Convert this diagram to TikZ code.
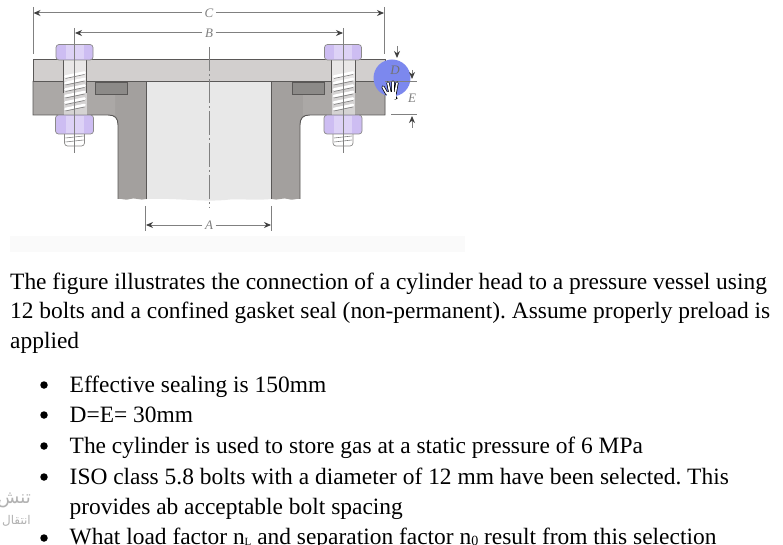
\documentclass[tikz,border=0pt]{standalone}
\usepackage{fontspec}
\setmainfont{Liberation Serif}
\newfontfamily\arabicfont[Script=Arabic]{DejaVu Sans}
\TeXXeTstate=1
\usetikzlibrary{arrows.meta}
\definecolor{flangetop}{HTML}{D2CFCE}
\definecolor{flangelow}{HTML}{ABA8A6}
\definecolor{wallgray}{HTML}{A3A09E}
\definecolor{boregray}{HTML}{E8E8E8}
\definecolor{gasket}{HTML}{8C8A88}
\definecolor{edgegray}{HTML}{5A5857}
\definecolor{boltviolet}{HTML}{CDBDF2}
\definecolor{boltlight}{HTML}{DDD2F6}
\definecolor{dimgray}{HTML}{808080}
\definecolor{hotblue}{HTML}{7C88EE}
\tikzset{
  body/.style={font=\fontsize{23.43}{26}\selectfont, anchor=base west, inner sep=0pt, text=black},
  dot/.style={circle, fill=black, inner sep=0pt, minimum size=7.5pt},
  dimlab/.style={font=\fontsize{13}{14}\selectfont\itshape, text=dimgray, fill=white, inner sep=2.5pt},
  dimline/.style={draw=dimgray, line width=1pt},
  dimarrow/.style={dimline, -{Stealth[length=7pt,width=6pt,color=black!75,fill=black!75]}},
  edge/.style={draw=edgegray, line width=0.9pt},
  violet/.style={fill=boltviolet, draw=edgegray!70, line width=0.7pt},
  sidelab/.style={font=\arabicfont\fontsize{12}{14}\selectfont, text=black!30, anchor=base east, inner sep=0pt}
}
\newcommand{\boltassy}[1]{%
  \begin{scope}[shift={(#1,0)}]
    \fill[flangetop!50!white] (-11,60) rectangle (12,81);
    \fill[flangelow!50!white] (-11,81) rectangle (12,115);
    \draw[edge,line width=0.7pt] (-11.5,60) -- (-11.5,93) (12,60) -- (12,93);
    \foreach \yy in {75,81.5,...,113}{
      \draw[white,line width=2.6pt,line cap=round] (-9,\yy+1.5) -- (10,\yy-2.5);
      \draw[black!55,line width=0.5pt] (-9,\yy+3.5) -- (10,\yy-0.5);
    }
    % bolt end
    \draw[violet,fill=white,rounded corners=3pt] (-10,130) -- (-10,146) -- (10,146) -- (10,130);
    \draw[black!50,line width=0.6pt] (-9,138) -- (9,136) (-9,142) -- (9,140);
    % head
    \draw[violet,rounded corners=3pt] (-18.5,60) -- (-18.5,44.5) -- (18.5,44.5) -- (18.5,60) -- cycle;
    \fill[boltlight] (-9,45.5) rectangle (9,59.5);
    % nut
    \draw[violet,rounded corners=3pt] (-19,115) -- (-19,134) -- (19,134) -- (19,115) -- cycle;
    \fill[boltlight] (-9,116) rectangle (9,133);
    % axis
    \draw[dimline,line width=0.7pt] (0,28) -- (0,153);
  \end{scope}}
\begin{document}
\begin{tikzpicture}[x=1pt,y=-1pt]
\frenchspacing
\useasboundingbox (0,0) rectangle (783,545);
\clip (0,0) rectangle (783,545);
\fill[white] (0,0) rectangle (783,545);
\fill[black!2] (10,236) rectangle (465,252);
% bore
\fill[boregray] (147,81) -- (271,81) -- (271,199)
  .. controls (250,201) and (240,198) .. (225,200)
  .. controls (200,202) and (180,198) .. (147,199) -- cycle;
% bodies
\path[fill=wallgray] (33,81) -- (146.5,81) -- (146.5,199)
  .. controls (140,201) and (135,197) .. (130,199)
  .. controls (125,201) and (122,198) .. (118,199)
  -- (118,125) .. controls (118,118) and (115,115) .. (108,115) -- (33,115) -- cycle;
\path[fill=wallgray] (385,81) -- (271.5,81) -- (271.5,199)
  .. controls (278,201) and (283,197) .. (288,199)
  .. controls (293,201) and (296,198) .. (300,199)
  -- (300,125) .. controls (300,118) and (303,115) .. (310,115) -- (385,115) -- cycle;
\fill[flangelow] (33,81) rectangle (115,115) (303,81) rectangle (385,115);
\draw[edge] (33,81) -- (33,115) -- (108,115) .. controls (115,115) and (118,118) .. (118,125) -- (118,199);
\draw[edge] (385,81) -- (385,115) -- (310,115) .. controls (303,115) and (300,118) .. (300,125) -- (300,199);
\draw[edge] (146.5,81) -- (146.5,199) (271.5,81) -- (271.5,199);
% top flange
\fill[flangetop] (33,59) rectangle (385,81);
\draw[edge] (33,59) -- (385,59) -- (385,81) -- (33,81) -- cycle;
\draw[edge,line width=1.4pt] (33.5,60) -- (33.5,81);
% gaskets
\draw[edge,fill=gasket] (95,82) rectangle (127,94);
\draw[edge,fill=gasket] (292,82) rectangle (324,94);
% bolts
\boltassy{74.5}
\boltassy{343}
% centre line
\draw[dimline,dash pattern=on 24pt off 3pt on 2pt off 3pt] (209,47) -- (209,208);
% dimension frame
\coordinate (cl) at (33.5,13); \coordinate (cr) at (384,13);
\coordinate (bl) at (75,33); \coordinate (br) at (343,33);
\coordinate (al) at (146,225); \coordinate (ar) at (271,225);
\draw[dimline] (33.5,7) -- (33.5,54) (384,7) -- (384,54);
\draw[dimline] (145.5,206) -- (145.5,231) (271.5,206) -- (271.5,231);
\node[dimlab] (clab) at (209,13) {C};
\node[dimlab] (blab) at (209,33) {B};
\node[dimlab] (alab) at (209,225) {A};
\draw[dimarrow] (clab) -- (cl);
\draw[dimarrow] (clab) -- (cr);
\draw[dimarrow] (blab) -- (bl);
\draw[dimarrow] (blab) -- (br);
\draw[dimarrow] (alab) -- (al);
\draw[dimarrow] (alab) -- (ar);
% highlight
\fill[hotblue] (392,78) circle (18.5);
\draw[dimline,line width=0.6pt] (385,81) -- (417,81);
\draw[dimline] (391,114.5) -- (417,114.5);
\node[dimlab,fill=none,text=black!55] (dlab) at (395,70) {D};
\node[dimlab,fill=none] (elab) at (412,98) {E};
\coordinate (dtop0) at (397,46); \coordinate (dtop1) at (397,58);
\draw[dimarrow] (dtop0) -- (dtop1);
\coordinate (d0) at (412,70); \coordinate (d1) at (412,79);
\draw[dimarrow] (d0) -- (d1);
\coordinate (e0) at (412,128); \coordinate (e1) at (412,116);
\draw[dimarrow] (e0) -- (e1);
% hand cursor
\begin{scope}[shift={(392,90)}]
  \draw[black,line width=3.2pt,line cap=round] (-9,-3) -- (-5,4) (-4,-7) -- (-2,3) (1,-8) -- (1,4) (5,-7) -- (3,4) (-2,6) -- (4,8);
  \draw[white,line width=1.7pt,line cap=round] (-9,-3) -- (-5,4) (-4,-7) -- (-2,3) (1,-8) -- (1,4) (5,-7) -- (3,4);
  \fill[white] (-5,2) rectangle (4,9);
\end{scope}
% text
\node[body] (l1) at (10,289) {The figure illustrates the connection of a cylinder head to a pressure vessel using};
\node[body] (l2) at (10,318.5) {12 bolts and a confined gasket seal (non-permanent). Assume properly preload is};
\node[body] (l3) at (10,348) {applied};
\node[dot] (b1) at (44,385) {};
\node[body] (t1) at (69.5,392) {Effective sealing is 150mm};
\node[dot] (b2) at (44,415) {};
\node[body] (t2) at (69.5,422.5) {D=E= 30mm};
\node[dot] (b3) at (44,446) {};
\node[body] (t3) at (69.5,453.5) {The cylinder is used to store gas at a static pressure of 6 MPa};
\node[dot] (b4) at (44,477) {};
\node[body] (t4) at (69.5,484.5) {ISO class 5.8 bolts with a diameter of 12 mm have been selected. This};
\node[body] (t5) at (69.5,514) {provides ab acceptable bolt spacing};
\node[dot] (b5) at (44,538) {};
\node[body] (t6) at (69.5,544) {What load factor n\raisebox{-1pt}{\fontsize{11}{12}\selectfont L} and separation factor n\raisebox{-1pt}{\fontsize{14}{15}\selectfont 0} result from this selection};
\node[sidelab,font=\arabicfont\fontsize{18}{20}\selectfont] (s1) at (31,503) {\beginR تنش\endR};
\node[sidelab] (s2) at (31,524) {\beginR انتقال\endR};
\end{tikzpicture}
\end{document}
